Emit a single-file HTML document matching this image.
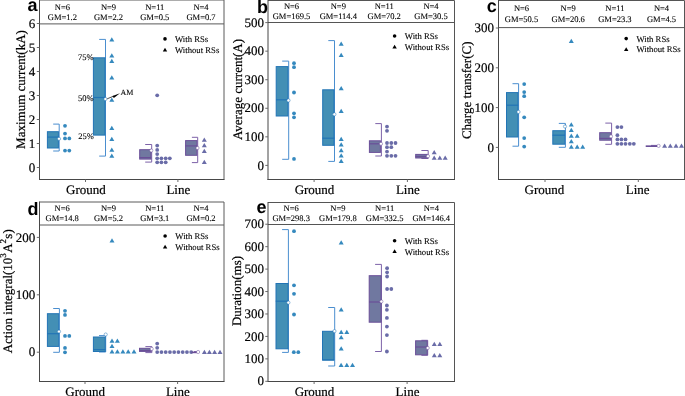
<!DOCTYPE html>
<html><head><meta charset="utf-8"><title>Figure</title>
<style>
html,body{margin:0;padding:0;background:#fff;}
body{width:685px;height:396px;overflow:hidden;}
svg{display:block;filter:blur(0.2px);}
text{fill:#000;stroke:#000;stroke-width:0.2px;text-rendering:geometricPrecision;}
</style></head>
<body>
<svg width="685" height="396" viewBox="0 0 685 396">
<rect width="685" height="396" fill="#fff"/>
<line x1="39.5" y1="0" x2="224" y2="0" stroke="#5a5a5a" stroke-width="1"/>
<line x1="224" y1="0" x2="224" y2="179.5" stroke="#5a5a5a" stroke-width="1"/>
<line x1="39.5" y1="23.9" x2="224" y2="23.9" stroke="#5a5a5a" stroke-width="1"/>
<line x1="39.5" y1="-0.5" x2="39.5" y2="180" stroke="#474747" stroke-width="1"/>
<line x1="39" y1="179.5" x2="224.5" y2="179.5" stroke="#474747" stroke-width="1"/>
<line x1="36.8" y1="167.5" x2="39.5" y2="167.5" stroke="#6a6a6a" stroke-width="1"/>
<text x="35.3" y="171.6" font-size="13" text-anchor="end" style="font-family:'Liberation Serif',serif;stroke-width:0.2px" font-weight="normal" >0</text>
<line x1="36.8" y1="143.5" x2="39.5" y2="143.5" stroke="#6a6a6a" stroke-width="1"/>
<text x="35.3" y="147.6" font-size="13" text-anchor="end" style="font-family:'Liberation Serif',serif;stroke-width:0.2px" font-weight="normal" >1</text>
<line x1="36.8" y1="119.5" x2="39.5" y2="119.5" stroke="#6a6a6a" stroke-width="1"/>
<text x="35.3" y="123.6" font-size="13" text-anchor="end" style="font-family:'Liberation Serif',serif;stroke-width:0.2px" font-weight="normal" >2</text>
<line x1="36.8" y1="95.5" x2="39.5" y2="95.5" stroke="#6a6a6a" stroke-width="1"/>
<text x="35.3" y="99.6" font-size="13" text-anchor="end" style="font-family:'Liberation Serif',serif;stroke-width:0.2px" font-weight="normal" >3</text>
<line x1="36.8" y1="71.5" x2="39.5" y2="71.5" stroke="#6a6a6a" stroke-width="1"/>
<text x="35.3" y="75.6" font-size="13" text-anchor="end" style="font-family:'Liberation Serif',serif;stroke-width:0.2px" font-weight="normal" >4</text>
<line x1="36.8" y1="47.5" x2="39.5" y2="47.5" stroke="#6a6a6a" stroke-width="1"/>
<text x="35.3" y="51.6" font-size="13" text-anchor="end" style="font-family:'Liberation Serif',serif;stroke-width:0.2px" font-weight="normal" >5</text>
<line x1="36.8" y1="23.5" x2="39.5" y2="23.5" stroke="#6a6a6a" stroke-width="1"/>
<text x="35.3" y="27.6" font-size="13" text-anchor="end" style="font-family:'Liberation Serif',serif;stroke-width:0.2px" font-weight="normal" >6</text>
<line x1="85.5" y1="179.5" x2="85.5" y2="182" stroke="#6a6a6a" stroke-width="1"/>
<text x="85.9" y="194" font-size="13" text-anchor="middle" style="font-family:'Liberation Serif',serif;stroke-width:0.2px" font-weight="normal" >Ground</text>
<line x1="177.9" y1="179.5" x2="177.9" y2="182" stroke="#6a6a6a" stroke-width="1"/>
<text x="178.3" y="194" font-size="13" text-anchor="middle" style="font-family:'Liberation Serif',serif;stroke-width:0.2px" font-weight="normal" >Line</text>
<text transform="translate(24.8,89.5) rotate(-90)" x="0" y="0" font-size="13" text-anchor="middle" style="font-family:'Liberation Serif',serif">Maximum current(kA)</text>
<text x="27.6" y="10.8" font-size="18" text-anchor="start" style="font-family:'Liberation Sans',sans-serif;stroke-width:0px" font-weight="bold" >a</text>
<text x="62.4" y="9.5" font-size="8.5" text-anchor="middle" style="font-family:'Liberation Serif',serif;stroke-width:0.1px" font-weight="normal" >N=6</text>
<text x="62.4" y="20.4" font-size="8.5" text-anchor="middle" style="font-family:'Liberation Serif',serif;stroke-width:0.1px" font-weight="normal" >GM=1.2</text>
<text x="108.5" y="9.5" font-size="8.5" text-anchor="middle" style="font-family:'Liberation Serif',serif;stroke-width:0.1px" font-weight="normal" >N=9</text>
<text x="108.5" y="20.4" font-size="8.5" text-anchor="middle" style="font-family:'Liberation Serif',serif;stroke-width:0.1px" font-weight="normal" >GM=2.2</text>
<text x="154.8" y="9.5" font-size="8.5" text-anchor="middle" style="font-family:'Liberation Serif',serif;stroke-width:0.1px" font-weight="normal" >N=11</text>
<text x="154.8" y="20.4" font-size="8.5" text-anchor="middle" style="font-family:'Liberation Serif',serif;stroke-width:0.1px" font-weight="normal" >GM=0.5</text>
<text x="201" y="9.5" font-size="8.5" text-anchor="middle" style="font-family:'Liberation Serif',serif;stroke-width:0.1px" font-weight="normal" >N=4</text>
<text x="201" y="20.4" font-size="8.5" text-anchor="middle" style="font-family:'Liberation Serif',serif;stroke-width:0.1px" font-weight="normal" >GM=0.7</text>
<circle cx="165" cy="38.9" r="1.8" fill="#000"/>
<path d="M165 47.84L167.2 51.58L162.8 51.58Z" fill="#000"/>
<text x="175" y="42.2" font-size="8.7" text-anchor="start" style="font-family:'Liberation Serif',serif;stroke-width:0.1px" font-weight="normal" >With RSs</text>
<text x="175" y="52.8" font-size="8.7" text-anchor="start" style="font-family:'Liberation Serif',serif;stroke-width:0.1px" font-weight="normal" >Without RSs</text>
<path d="M53.2 124.1H59.2V151H53.2" fill="none" stroke="#4a8ecf" stroke-width="1"/>
<rect x="47.4" y="131.7" width="11" height="16.3" fill="#438fb5" stroke="#2274b5" stroke-width="1"/>
<line x1="47.2" y1="137.1" x2="58.6" y2="137.1" stroke="#2274b5" stroke-width="1.2"/>
<circle cx="59" cy="138.8" r="1.6" fill="#fff" stroke="#2274b5" stroke-width="0.5"/>
<circle cx="65" cy="125.8" r="1.9" fill="#3589be"/>
<circle cx="65" cy="133.6" r="1.9" fill="#3589be"/>
<circle cx="65" cy="138.4" r="1.9" fill="#3589be"/>
<circle cx="69.3" cy="138.4" r="1.9" fill="#3589be"/>
<circle cx="65" cy="150.6" r="1.9" fill="#3589be"/>
<circle cx="69.3" cy="150.6" r="1.9" fill="#3589be"/>
<path d="M99.2 39.4H105.5V156.1H99.2" fill="none" stroke="#4a8ecf" stroke-width="1"/>
<rect x="93.4" y="57.8" width="11.6" height="77.3" fill="#438fb5" stroke="#2274b5" stroke-width="1"/>
<line x1="93.2" y1="97.5" x2="105.2" y2="97.5" stroke="#2274b5" stroke-width="1.2"/>
<circle cx="105.4" cy="99" r="1.6" fill="#fff" stroke="#2274b5" stroke-width="0.5"/>
<path d="M111.8 37.16L114.3 41.41L109.3 41.41Z" fill="#3589be"/>
<path d="M111.8 53.16L114.3 57.41L109.3 57.41Z" fill="#3589be"/>
<path d="M111.8 58.66L114.3 62.91L109.3 62.91Z" fill="#3589be"/>
<path d="M111.8 75.36L114.3 79.61L109.3 79.61Z" fill="#3589be"/>
<path d="M111.8 97.46L114.3 101.71L109.3 101.71Z" fill="#3589be"/>
<path d="M111.8 125.66L114.3 129.91L109.3 129.91Z" fill="#3589be"/>
<path d="M111.8 136.66L114.3 140.91L109.3 140.91Z" fill="#3589be"/>
<path d="M111.8 147.46L114.3 151.71L109.3 151.71Z" fill="#3589be"/>
<path d="M111.8 153.56L114.3 157.81L109.3 157.81Z" fill="#3589be"/>
<path d="M145.2 144.5H151.7V162.1H145.2" fill="none" stroke="#7d62a8" stroke-width="1"/>
<rect x="139.7" y="149.7" width="11.3" height="9.4" fill="#7078a0" stroke="#6a4f98" stroke-width="1"/>
<line x1="139.5" y1="157.6" x2="151.2" y2="157.6" stroke="#6a4f98" stroke-width="1.2"/>
<circle cx="151.3" cy="150.5" r="1.6" fill="#fff" stroke="#6a4f98" stroke-width="0.5"/>
<circle cx="157.2" cy="95.3" r="1.9" fill="#6a6ca8"/>
<circle cx="157.2" cy="145.6" r="1.9" fill="#6a6ca8"/>
<circle cx="157.2" cy="149.9" r="1.9" fill="#6a6ca8"/>
<circle cx="157.2" cy="154.1" r="1.9" fill="#6a6ca8"/>
<circle cx="157.2" cy="158.3" r="1.9" fill="#6a6ca8"/>
<circle cx="161.4" cy="158.3" r="1.9" fill="#6a6ca8"/>
<circle cx="165.7" cy="158.3" r="1.9" fill="#6a6ca8"/>
<circle cx="169.8" cy="158.3" r="1.9" fill="#6a6ca8"/>
<circle cx="157.2" cy="162.3" r="1.9" fill="#6a6ca8"/>
<circle cx="161.4" cy="162.3" r="1.9" fill="#6a6ca8"/>
<circle cx="165.7" cy="162.3" r="1.9" fill="#6a6ca8"/>
<path d="M191.9 137.3H197.7V162.6H191.9" fill="none" stroke="#7d62a8" stroke-width="1"/>
<rect x="185.6" y="140.6" width="11.3" height="14.7" fill="#7078a0" stroke="#6a4f98" stroke-width="1"/>
<line x1="185.4" y1="145.9" x2="197.1" y2="145.9" stroke="#6a4f98" stroke-width="1.2"/>
<circle cx="197.5" cy="148" r="1.6" fill="#fff" stroke="#6a4f98" stroke-width="0.5"/>
<path d="M204.3 137.56L206.8 141.81L201.8 141.81Z" fill="#6a6ca8"/>
<path d="M204.3 143.06L206.8 147.31L201.8 147.31Z" fill="#6a6ca8"/>
<path d="M204.3 148.86L206.8 153.11L201.8 153.11Z" fill="#6a6ca8"/>
<path d="M204.3 159.86L206.8 164.11L201.8 164.11Z" fill="#6a6ca8"/>
<text x="93.6" y="59.5" font-size="8.5" text-anchor="end" style="font-family:'Liberation Serif',serif;stroke-width:0.1px" font-weight="normal" >75%</text>
<text x="93.6" y="100.7" font-size="8.5" text-anchor="end" style="font-family:'Liberation Serif',serif;stroke-width:0.1px" font-weight="normal" >50%</text>
<text x="93.8" y="138.7" font-size="8.5" text-anchor="end" style="font-family:'Liberation Serif',serif;stroke-width:0.1px" font-weight="normal" >25%</text>
<text x="120.4" y="94.7" font-size="8" text-anchor="start" style="font-family:'Liberation Serif',serif;stroke-width:0.1px" font-weight="normal" >AM</text>
<path d="M107.2 98.8L113.5 96.2" stroke="#000" stroke-width="0.7" fill="none"/>
<path d="M112.5 95.9L120.0 93.3L113.8 97.9Z" fill="#000"/>
<line x1="268" y1="0.5" x2="454.5" y2="0.5" stroke="#555555" stroke-width="1"/>
<line x1="454.5" y1="0.5" x2="454.5" y2="179.5" stroke="#555555" stroke-width="1"/>
<line x1="268" y1="22.5" x2="454.5" y2="22.5" stroke="#555555" stroke-width="1"/>
<line x1="268" y1="0" x2="268" y2="180" stroke="#474747" stroke-width="1"/>
<line x1="267.5" y1="179.5" x2="455" y2="179.5" stroke="#474747" stroke-width="1"/>
<line x1="265.3" y1="165.4" x2="268" y2="165.4" stroke="#6a6a6a" stroke-width="1"/>
<text x="264" y="169.5" font-size="13" text-anchor="end" style="font-family:'Liberation Serif',serif;stroke-width:0.2px" font-weight="normal" >0</text>
<line x1="265.3" y1="136.84" x2="268" y2="136.84" stroke="#6a6a6a" stroke-width="1"/>
<text x="264" y="140.94" font-size="13" text-anchor="end" style="font-family:'Liberation Serif',serif;stroke-width:0.2px" font-weight="normal" >100</text>
<line x1="265.3" y1="108.28" x2="268" y2="108.28" stroke="#6a6a6a" stroke-width="1"/>
<text x="264" y="112.38" font-size="13" text-anchor="end" style="font-family:'Liberation Serif',serif;stroke-width:0.2px" font-weight="normal" >200</text>
<line x1="265.3" y1="79.72" x2="268" y2="79.72" stroke="#6a6a6a" stroke-width="1"/>
<text x="264" y="83.82" font-size="13" text-anchor="end" style="font-family:'Liberation Serif',serif;stroke-width:0.2px" font-weight="normal" >300</text>
<line x1="265.3" y1="51.16" x2="268" y2="51.16" stroke="#6a6a6a" stroke-width="1"/>
<text x="264" y="55.26" font-size="13" text-anchor="end" style="font-family:'Liberation Serif',serif;stroke-width:0.2px" font-weight="normal" >400</text>
<line x1="265.3" y1="22.6" x2="268" y2="22.6" stroke="#6a6a6a" stroke-width="1"/>
<text x="264" y="26.7" font-size="13" text-anchor="end" style="font-family:'Liberation Serif',serif;stroke-width:0.2px" font-weight="normal" >500</text>
<line x1="314.1" y1="179.5" x2="314.1" y2="182" stroke="#6a6a6a" stroke-width="1"/>
<text x="314.5" y="194" font-size="13" text-anchor="middle" style="font-family:'Liberation Serif',serif;stroke-width:0.2px" font-weight="normal" >Ground</text>
<line x1="407.4" y1="179.5" x2="407.4" y2="182" stroke="#6a6a6a" stroke-width="1"/>
<text x="407.8" y="194" font-size="13" text-anchor="middle" style="font-family:'Liberation Serif',serif;stroke-width:0.2px" font-weight="normal" >Line</text>
<text transform="translate(242,89.5) rotate(-90)" x="0" y="0" font-size="13" text-anchor="middle" style="font-family:'Liberation Serif',serif">Average current(A)</text>
<text x="257" y="13.4" font-size="18" text-anchor="start" style="font-family:'Liberation Sans',sans-serif;stroke-width:0px" font-weight="bold" >b</text>
<text x="291.5" y="8.6" font-size="8.5" text-anchor="middle" style="font-family:'Liberation Serif',serif;stroke-width:0.1px" font-weight="normal" >N=6</text>
<text x="291.5" y="19.3" font-size="8.5" text-anchor="middle" style="font-family:'Liberation Serif',serif;stroke-width:0.1px" font-weight="normal" >GM=169.5</text>
<text x="338.3" y="8.6" font-size="8.5" text-anchor="middle" style="font-family:'Liberation Serif',serif;stroke-width:0.1px" font-weight="normal" >N=9</text>
<text x="338.3" y="19.3" font-size="8.5" text-anchor="middle" style="font-family:'Liberation Serif',serif;stroke-width:0.1px" font-weight="normal" >GM=114.4</text>
<text x="384.2" y="8.6" font-size="8.5" text-anchor="middle" style="font-family:'Liberation Serif',serif;stroke-width:0.1px" font-weight="normal" >N=11</text>
<text x="384.2" y="19.3" font-size="8.5" text-anchor="middle" style="font-family:'Liberation Serif',serif;stroke-width:0.1px" font-weight="normal" >GM=70.2</text>
<text x="431" y="8.6" font-size="8.5" text-anchor="middle" style="font-family:'Liberation Serif',serif;stroke-width:0.1px" font-weight="normal" >N=4</text>
<text x="431" y="19.3" font-size="8.5" text-anchor="middle" style="font-family:'Liberation Serif',serif;stroke-width:0.1px" font-weight="normal" >GM=30.5</text>
<circle cx="394.6" cy="36" r="1.8" fill="#000"/>
<path d="M394.6 44.84L396.8 48.58L392.4 48.58Z" fill="#000"/>
<text x="404.8" y="39.2" font-size="8.7" text-anchor="start" style="font-family:'Liberation Serif',serif;stroke-width:0.1px" font-weight="normal" >With RSs</text>
<text x="404.8" y="49.8" font-size="8.7" text-anchor="start" style="font-family:'Liberation Serif',serif;stroke-width:0.1px" font-weight="normal" >Without RSs</text>
<path d="M282.2 61.1H288.7V159.3H282.2" fill="none" stroke="#4a8ecf" stroke-width="1"/>
<rect x="276.2" y="66.6" width="11.8" height="49.4" fill="#438fb5" stroke="#2274b5" stroke-width="1"/>
<line x1="276" y1="99.8" x2="288.2" y2="99.8" stroke="#2274b5" stroke-width="1.2"/>
<circle cx="288.5" cy="100.4" r="1.6" fill="#fff" stroke="#2274b5" stroke-width="0.5"/>
<circle cx="294" cy="63.2" r="1.9" fill="#3589be"/>
<circle cx="294" cy="67.2" r="1.9" fill="#3589be"/>
<circle cx="294" cy="92.5" r="1.9" fill="#3589be"/>
<circle cx="294" cy="113.3" r="1.9" fill="#3589be"/>
<circle cx="294" cy="117.3" r="1.9" fill="#3589be"/>
<circle cx="294" cy="158.9" r="1.9" fill="#3589be"/>
<path d="M328.3 40.6H334.5V161.4H328.3" fill="none" stroke="#4a8ecf" stroke-width="1"/>
<rect x="322.7" y="89.8" width="11.3" height="55.5" fill="#438fb5" stroke="#2274b5" stroke-width="1"/>
<line x1="322.5" y1="138.2" x2="334.2" y2="138.2" stroke="#2274b5" stroke-width="1.2"/>
<circle cx="334.4" cy="114.3" r="1.6" fill="#fff" stroke="#2274b5" stroke-width="0.5"/>
<path d="M341.2 41.46L343.7 45.71L338.7 45.71Z" fill="#3589be"/>
<path d="M341.2 52.76L343.7 57.01L338.7 57.01Z" fill="#3589be"/>
<path d="M341.2 86.06L343.7 90.31L338.7 90.31Z" fill="#3589be"/>
<path d="M341.2 108.76L343.7 113.01L338.7 113.01Z" fill="#3589be"/>
<path d="M341.2 136.66L343.7 140.91L338.7 140.91Z" fill="#3589be"/>
<path d="M341.2 142.36L343.7 146.61L338.7 146.61Z" fill="#3589be"/>
<path d="M341.2 148.06L343.7 152.31L338.7 152.31Z" fill="#3589be"/>
<path d="M341.2 153.36L343.7 157.61L338.7 157.61Z" fill="#3589be"/>
<path d="M341.2 158.66L343.7 162.91L338.7 162.91Z" fill="#3589be"/>
<path d="M375.3 123.6H381.4V156H375.3" fill="none" stroke="#7d62a8" stroke-width="1"/>
<rect x="369.4" y="140.8" width="11" height="11.6" fill="#7078a0" stroke="#6a4f98" stroke-width="1"/>
<line x1="369.2" y1="143.8" x2="380.6" y2="143.8" stroke="#6a4f98" stroke-width="1.2"/>
<circle cx="381" cy="143.8" r="1.6" fill="#fff" stroke="#6a4f98" stroke-width="0.5"/>
<circle cx="387" cy="126.6" r="1.9" fill="#6a6ca8"/>
<circle cx="387" cy="130.8" r="1.9" fill="#6a6ca8"/>
<circle cx="387" cy="143" r="1.9" fill="#6a6ca8"/>
<circle cx="391.3" cy="143" r="1.9" fill="#6a6ca8"/>
<circle cx="395.5" cy="143" r="1.9" fill="#6a6ca8"/>
<circle cx="387" cy="147.2" r="1.9" fill="#6a6ca8"/>
<circle cx="391.3" cy="147.2" r="1.9" fill="#6a6ca8"/>
<circle cx="387" cy="151.6" r="1.9" fill="#6a6ca8"/>
<circle cx="387" cy="155.8" r="1.9" fill="#6a6ca8"/>
<circle cx="391.3" cy="155.8" r="1.9" fill="#6a6ca8"/>
<circle cx="395.5" cy="155.8" r="1.9" fill="#6a6ca8"/>
<path d="M421.4 150.5H428.2V158.5H421.4" fill="none" stroke="#7d62a8" stroke-width="1"/>
<rect x="415.7" y="154.4" width="12" height="3.6" fill="#7078a0" stroke="#6a4f98" stroke-width="1"/>
<line x1="415.5" y1="156.5" x2="427.9" y2="156.5" stroke="#6a4f98" stroke-width="1.2"/>
<circle cx="428" cy="156.2" r="1.6" fill="#fff" stroke="#6a4f98" stroke-width="0.5"/>
<path d="M434.2 149.96L436.7 154.21L431.7 154.21Z" fill="#6a6ca8"/>
<path d="M434.2 155.56L436.7 159.81L431.7 159.81Z" fill="#6a6ca8"/>
<path d="M439.8 155.56L442.3 159.81L437.3 159.81Z" fill="#6a6ca8"/>
<path d="M445.2 155.56L447.7 159.81L442.7 159.81Z" fill="#6a6ca8"/>
<line x1="498.5" y1="0.5" x2="684.5" y2="0.5" stroke="#555555" stroke-width="1"/>
<line x1="684.5" y1="0.5" x2="684.5" y2="179.5" stroke="#555555" stroke-width="1"/>
<line x1="498.5" y1="27.6" x2="684.5" y2="27.6" stroke="#555555" stroke-width="1"/>
<line x1="498.5" y1="0" x2="498.5" y2="180" stroke="#474747" stroke-width="1"/>
<line x1="498" y1="179.5" x2="685" y2="179.5" stroke="#474747" stroke-width="1"/>
<line x1="495.8" y1="147.4" x2="498.5" y2="147.4" stroke="#6a6a6a" stroke-width="1"/>
<text x="494" y="151.5" font-size="13" text-anchor="end" style="font-family:'Liberation Serif',serif;stroke-width:0.2px" font-weight="normal" >0</text>
<line x1="495.8" y1="107.6" x2="498.5" y2="107.6" stroke="#6a6a6a" stroke-width="1"/>
<text x="494" y="111.7" font-size="13" text-anchor="end" style="font-family:'Liberation Serif',serif;stroke-width:0.2px" font-weight="normal" >100</text>
<line x1="495.8" y1="67.8" x2="498.5" y2="67.8" stroke="#6a6a6a" stroke-width="1"/>
<text x="494" y="71.9" font-size="13" text-anchor="end" style="font-family:'Liberation Serif',serif;stroke-width:0.2px" font-weight="normal" >200</text>
<line x1="495.8" y1="28" x2="498.5" y2="28" stroke="#6a6a6a" stroke-width="1"/>
<text x="494" y="32.1" font-size="13" text-anchor="end" style="font-family:'Liberation Serif',serif;stroke-width:0.2px" font-weight="normal" >300</text>
<line x1="545" y1="179.5" x2="545" y2="182" stroke="#6a6a6a" stroke-width="1"/>
<text x="544.4" y="194" font-size="13" text-anchor="middle" style="font-family:'Liberation Serif',serif;stroke-width:0.2px" font-weight="normal" >Ground</text>
<line x1="638.3" y1="179.5" x2="638.3" y2="182" stroke="#6a6a6a" stroke-width="1"/>
<text x="637.7" y="194" font-size="13" text-anchor="middle" style="font-family:'Liberation Serif',serif;stroke-width:0.2px" font-weight="normal" >Line</text>
<text transform="translate(471.2,90.3) rotate(-90)" x="0" y="0" font-size="13" text-anchor="middle" style="font-family:'Liberation Serif',serif">Charge transfer(C)</text>
<text x="486.8" y="11.8" font-size="18" text-anchor="start" style="font-family:'Liberation Sans',sans-serif;stroke-width:0px" font-weight="bold" >c</text>
<text x="521.5" y="11.3" font-size="8.5" text-anchor="middle" style="font-family:'Liberation Serif',serif;stroke-width:0.1px" font-weight="normal" >N=6</text>
<text x="521.5" y="22" font-size="8.5" text-anchor="middle" style="font-family:'Liberation Serif',serif;stroke-width:0.1px" font-weight="normal" >GM=50.5</text>
<text x="568.2" y="11.3" font-size="8.5" text-anchor="middle" style="font-family:'Liberation Serif',serif;stroke-width:0.1px" font-weight="normal" >N=9</text>
<text x="568.2" y="22" font-size="8.5" text-anchor="middle" style="font-family:'Liberation Serif',serif;stroke-width:0.1px" font-weight="normal" >GM=20.6</text>
<text x="614.9" y="11.3" font-size="8.5" text-anchor="middle" style="font-family:'Liberation Serif',serif;stroke-width:0.1px" font-weight="normal" >N=11</text>
<text x="614.9" y="22" font-size="8.5" text-anchor="middle" style="font-family:'Liberation Serif',serif;stroke-width:0.1px" font-weight="normal" >GM=23.3</text>
<text x="661.5" y="11.3" font-size="8.5" text-anchor="middle" style="font-family:'Liberation Serif',serif;stroke-width:0.1px" font-weight="normal" >N=4</text>
<text x="661.5" y="22" font-size="8.5" text-anchor="middle" style="font-family:'Liberation Serif',serif;stroke-width:0.1px" font-weight="normal" >GM=4.5</text>
<circle cx="626.2" cy="38.6" r="1.8" fill="#000"/>
<path d="M626.2 47.34L628.4 51.08L624 51.08Z" fill="#000"/>
<text x="636.4" y="41.6" font-size="8.7" text-anchor="start" style="font-family:'Liberation Serif',serif;stroke-width:0.1px" font-weight="normal" >With RSs</text>
<text x="636.4" y="52.4" font-size="8.7" text-anchor="start" style="font-family:'Liberation Serif',serif;stroke-width:0.1px" font-weight="normal" >Without RSs</text>
<path d="M512.5 83.7H518.6V146.2H512.5" fill="none" stroke="#4a8ecf" stroke-width="1"/>
<rect x="506.5" y="92.6" width="11.5" height="44.4" fill="#438fb5" stroke="#2274b5" stroke-width="1"/>
<line x1="506.3" y1="105.2" x2="518.2" y2="105.2" stroke="#2274b5" stroke-width="1.2"/>
<circle cx="518.5" cy="111.9" r="1.6" fill="#fff" stroke="#2274b5" stroke-width="0.5"/>
<circle cx="524.2" cy="84.1" r="1.9" fill="#3589be"/>
<circle cx="524.2" cy="92.1" r="1.9" fill="#3589be"/>
<circle cx="524.2" cy="96.2" r="1.9" fill="#3589be"/>
<circle cx="524.2" cy="117.3" r="1.9" fill="#3589be"/>
<circle cx="524.2" cy="138.1" r="1.9" fill="#3589be"/>
<circle cx="524.2" cy="146.6" r="1.9" fill="#3589be"/>
<path d="M558.8 123.4H565.4V147.3H558.8" fill="none" stroke="#4a8ecf" stroke-width="1"/>
<rect x="552.8" y="130.7" width="12" height="13.5" fill="#438fb5" stroke="#2274b5" stroke-width="1"/>
<line x1="552.6" y1="135.2" x2="565" y2="135.2" stroke="#2274b5" stroke-width="1.2"/>
<circle cx="565" cy="126.5" r="1.6" fill="#fff" stroke="#2274b5" stroke-width="0.5"/>
<path d="M571.3 38.66L573.8 42.91L568.8 42.91Z" fill="#3589be"/>
<path d="M571.3 122.16L573.8 126.41L568.8 126.41Z" fill="#3589be"/>
<path d="M571.3 127.86L573.8 132.11L568.8 132.11Z" fill="#3589be"/>
<path d="M571.3 133.56L573.8 137.81L568.8 137.81Z" fill="#3589be"/>
<path d="M577.2 133.56L579.7 137.81L574.7 137.81Z" fill="#3589be"/>
<path d="M571.3 138.96L573.8 143.21L568.8 143.21Z" fill="#3589be"/>
<path d="M571.3 144.56L573.8 148.81L568.8 148.81Z" fill="#3589be"/>
<path d="M577.2 144.56L579.7 148.81L574.7 148.81Z" fill="#3589be"/>
<path d="M582.7 144.56L585.2 148.81L580.2 148.81Z" fill="#3589be"/>
<path d="M605.3 123.1H611.6V144.3H605.3" fill="none" stroke="#7d62a8" stroke-width="1"/>
<rect x="599.7" y="132.7" width="11.1" height="7.5" fill="#7078a0" stroke="#6a4f98" stroke-width="1"/>
<line x1="599.5" y1="138.4" x2="611" y2="138.4" stroke="#6a4f98" stroke-width="1.2"/>
<circle cx="611" cy="136.4" r="1.6" fill="#fff" stroke="#6a4f98" stroke-width="0.5"/>
<circle cx="617.4" cy="127.1" r="1.9" fill="#6a6ca8"/>
<circle cx="621.4" cy="127.1" r="1.9" fill="#6a6ca8"/>
<circle cx="617.4" cy="135.2" r="1.9" fill="#6a6ca8"/>
<circle cx="617.4" cy="139.4" r="1.9" fill="#6a6ca8"/>
<circle cx="621.4" cy="139.4" r="1.9" fill="#6a6ca8"/>
<circle cx="625.5" cy="139.4" r="1.9" fill="#6a6ca8"/>
<circle cx="617.4" cy="143.8" r="1.9" fill="#6a6ca8"/>
<circle cx="621.4" cy="143.8" r="1.9" fill="#6a6ca8"/>
<circle cx="625.5" cy="143.8" r="1.9" fill="#6a6ca8"/>
<circle cx="629.8" cy="143.8" r="1.9" fill="#6a6ca8"/>
<circle cx="633.8" cy="143.8" r="1.9" fill="#6a6ca8"/>
<path d="M651 145.4H657V146.4H651" fill="none" stroke="#7d62a8" stroke-width="1"/>
<rect x="646.2" y="145.9" width="10.3" height="0.6" fill="#7078a0" stroke="#6a4f98" stroke-width="1"/>
<circle cx="658.6" cy="145.9" r="1.6" fill="#fff" stroke="#6a4f98" stroke-width="0.5"/>
<path d="M664.6 143.56L667.1 147.81L662.1 147.81Z" fill="#6a6ca8"/>
<path d="M670.3 143.56L672.8 147.81L667.8 147.81Z" fill="#6a6ca8"/>
<path d="M676 143.56L678.5 147.81L673.5 147.81Z" fill="#6a6ca8"/>
<path d="M681.5 143.56L684 147.81L679 147.81Z" fill="#6a6ca8"/>
<line x1="39.5" y1="202" x2="224" y2="202" stroke="#5a5a5a" stroke-width="1"/>
<line x1="224" y1="202" x2="224" y2="381.5" stroke="#5a5a5a" stroke-width="1"/>
<line x1="39.5" y1="225" x2="224" y2="225" stroke="#5a5a5a" stroke-width="1"/>
<line x1="39.5" y1="201.5" x2="39.5" y2="382" stroke="#474747" stroke-width="1"/>
<line x1="39" y1="381.5" x2="224.5" y2="381.5" stroke="#474747" stroke-width="1"/>
<line x1="36.8" y1="352.2" x2="39.5" y2="352.2" stroke="#6a6a6a" stroke-width="1"/>
<text x="35.3" y="356.3" font-size="13" text-anchor="end" style="font-family:'Liberation Serif',serif;stroke-width:0.2px" font-weight="normal" >0</text>
<line x1="36.8" y1="294.8" x2="39.5" y2="294.8" stroke="#6a6a6a" stroke-width="1"/>
<text x="35.3" y="298.9" font-size="13" text-anchor="end" style="font-family:'Liberation Serif',serif;stroke-width:0.2px" font-weight="normal" >100</text>
<line x1="36.8" y1="237.4" x2="39.5" y2="237.4" stroke="#6a6a6a" stroke-width="1"/>
<text x="35.3" y="241.5" font-size="13" text-anchor="end" style="font-family:'Liberation Serif',serif;stroke-width:0.2px" font-weight="normal" >200</text>
<line x1="85" y1="381.5" x2="85" y2="384" stroke="#6a6a6a" stroke-width="1"/>
<text x="85.2" y="395.6" font-size="13" text-anchor="middle" style="font-family:'Liberation Serif',serif;stroke-width:0.2px" font-weight="normal" >Ground</text>
<line x1="177.6" y1="381.5" x2="177.6" y2="384" stroke="#6a6a6a" stroke-width="1"/>
<text x="177.8" y="395.6" font-size="13" text-anchor="middle" style="font-family:'Liberation Serif',serif;stroke-width:0.2px" font-weight="normal" >Line</text>
<text transform="translate(12.4,291.3) rotate(-90)" font-size="13" text-anchor="middle" style="font-family:'Liberation Serif',serif">Action integral(10<tspan font-size="9" dy="-6.5">3</tspan><tspan dy="6.5" dx="0.3">A</tspan><tspan font-size="9" dy="-6.5">2</tspan><tspan dy="6.5" dx="0.3">s)</tspan></text>
<text x="27.6" y="215.4" font-size="18" text-anchor="start" style="font-family:'Liberation Sans',sans-serif;stroke-width:0px" font-weight="bold" >d</text>
<text x="62.2" y="210.7" font-size="8.5" text-anchor="middle" style="font-family:'Liberation Serif',serif;stroke-width:0.1px" font-weight="normal" >N=6</text>
<text x="62.2" y="221.2" font-size="8.5" text-anchor="middle" style="font-family:'Liberation Serif',serif;stroke-width:0.1px" font-weight="normal" >GM=14.8</text>
<text x="108.5" y="210.7" font-size="8.5" text-anchor="middle" style="font-family:'Liberation Serif',serif;stroke-width:0.1px" font-weight="normal" >N=9</text>
<text x="108.5" y="221.2" font-size="8.5" text-anchor="middle" style="font-family:'Liberation Serif',serif;stroke-width:0.1px" font-weight="normal" >GM=5.2</text>
<text x="154.8" y="210.7" font-size="8.5" text-anchor="middle" style="font-family:'Liberation Serif',serif;stroke-width:0.1px" font-weight="normal" >N=11</text>
<text x="154.8" y="221.2" font-size="8.5" text-anchor="middle" style="font-family:'Liberation Serif',serif;stroke-width:0.1px" font-weight="normal" >GM=3.1</text>
<text x="201" y="210.7" font-size="8.5" text-anchor="middle" style="font-family:'Liberation Serif',serif;stroke-width:0.1px" font-weight="normal" >N=4</text>
<text x="201" y="221.2" font-size="8.5" text-anchor="middle" style="font-family:'Liberation Serif',serif;stroke-width:0.1px" font-weight="normal" >GM=0.2</text>
<circle cx="165.1" cy="236" r="1.8" fill="#000"/>
<path d="M165.1 244.84L167.3 248.58L162.9 248.58Z" fill="#000"/>
<text x="175.3" y="239.2" font-size="8.7" text-anchor="start" style="font-family:'Liberation Serif',serif;stroke-width:0.1px" font-weight="normal" >With RSs</text>
<text x="175.3" y="250.1" font-size="8.7" text-anchor="start" style="font-family:'Liberation Serif',serif;stroke-width:0.1px" font-weight="normal" >Without RSs</text>
<path d="M53.2 308.5H59.4V352.3H53.2" fill="none" stroke="#4a8ecf" stroke-width="1"/>
<rect x="47.4" y="313.7" width="11.3" height="32.7" fill="#438fb5" stroke="#2274b5" stroke-width="1"/>
<line x1="47.2" y1="333.7" x2="58.9" y2="333.7" stroke="#2274b5" stroke-width="1.2"/>
<circle cx="59" cy="331.5" r="1.6" fill="#fff" stroke="#2274b5" stroke-width="0.5"/>
<circle cx="65" cy="310.8" r="1.9" fill="#3589be"/>
<circle cx="65" cy="314.9" r="1.9" fill="#3589be"/>
<circle cx="65" cy="335.9" r="1.9" fill="#3589be"/>
<circle cx="69.3" cy="335.9" r="1.9" fill="#3589be"/>
<circle cx="65" cy="347.9" r="1.9" fill="#3589be"/>
<circle cx="65" cy="352.3" r="1.9" fill="#3589be"/>
<path d="M99 335.6H105.7V352H99" fill="none" stroke="#4a8ecf" stroke-width="1"/>
<rect x="93.4" y="337" width="11.8" height="14.5" fill="#438fb5" stroke="#2274b5" stroke-width="1"/>
<line x1="93.2" y1="349.6" x2="105.4" y2="349.6" stroke="#2274b5" stroke-width="1.2"/>
<circle cx="105.7" cy="334.5" r="1.6" fill="#fff" stroke="#2274b5" stroke-width="0.5"/>
<path d="M112 238.16L114.5 242.41L109.5 242.41Z" fill="#3589be"/>
<path d="M112 338.56L114.5 342.81L109.5 342.81Z" fill="#3589be"/>
<path d="M117.4 338.56L119.9 342.81L114.9 342.81Z" fill="#3589be"/>
<path d="M112 343.86L114.5 348.11L109.5 348.11Z" fill="#3589be"/>
<path d="M112 349.16L114.5 353.41L109.5 353.41Z" fill="#3589be"/>
<path d="M117.4 349.16L119.9 353.41L114.9 353.41Z" fill="#3589be"/>
<path d="M122.9 349.16L125.4 353.41L120.4 353.41Z" fill="#3589be"/>
<path d="M128.2 349.16L130.7 353.41L125.7 353.41Z" fill="#3589be"/>
<path d="M134 349.16L136.5 353.41L131.5 353.41Z" fill="#3589be"/>
<path d="M145.4 346.6H151.9V352.6H145.4" fill="none" stroke="#7d62a8" stroke-width="1"/>
<rect x="139.5" y="348.3" width="11.7" height="3.1" fill="#7078a0" stroke="#6a4f98" stroke-width="1"/>
<line x1="139.3" y1="350.5" x2="151.4" y2="350.5" stroke="#6a4f98" stroke-width="1.2"/>
<circle cx="151.7" cy="348.9" r="1.6" fill="#fff" stroke="#6a4f98" stroke-width="0.5"/>
<circle cx="157.2" cy="343.6" r="1.9" fill="#6a6ca8"/>
<circle cx="157.2" cy="347.8" r="1.9" fill="#6a6ca8"/>
<circle cx="157.2" cy="352.1" r="1.9" fill="#6a6ca8"/>
<circle cx="161.45" cy="352.1" r="1.9" fill="#6a6ca8"/>
<circle cx="165.7" cy="352.1" r="1.9" fill="#6a6ca8"/>
<circle cx="169.95" cy="352.1" r="1.9" fill="#6a6ca8"/>
<circle cx="174.2" cy="352.1" r="1.9" fill="#6a6ca8"/>
<circle cx="178.45" cy="352.1" r="1.9" fill="#6a6ca8"/>
<circle cx="182.7" cy="352.1" r="1.9" fill="#6a6ca8"/>
<circle cx="186.95" cy="352.1" r="1.9" fill="#6a6ca8"/>
<circle cx="191.2" cy="352.1" r="1.9" fill="#6a6ca8"/>
<path d="M194 351.6H197V352.4H194" fill="none" stroke="#7d62a8" stroke-width="1"/>
<rect x="192" y="352.1" width="4.5" height="0.6" fill="#7078a0" stroke="#6a4f98" stroke-width="1"/>
<circle cx="198.1" cy="352" r="1.6" fill="#fff" stroke="#6a4f98" stroke-width="0.5"/>
<path d="M204.4 349.76L206.9 354.01L201.9 354.01Z" fill="#6a6ca8"/>
<path d="M209.4 349.76L211.9 354.01L206.9 354.01Z" fill="#6a6ca8"/>
<path d="M214.6 349.76L217.1 354.01L212.1 354.01Z" fill="#6a6ca8"/>
<path d="M220 349.76L222.5 354.01L217.5 354.01Z" fill="#6a6ca8"/>
<line x1="268" y1="202.5" x2="454.5" y2="202.5" stroke="#555555" stroke-width="1"/>
<line x1="454.5" y1="202.5" x2="454.5" y2="381.5" stroke="#555555" stroke-width="1"/>
<line x1="268" y1="224.5" x2="454.5" y2="224.5" stroke="#555555" stroke-width="1"/>
<line x1="268" y1="202" x2="268" y2="382" stroke="#474747" stroke-width="1"/>
<line x1="267.5" y1="381.5" x2="455" y2="381.5" stroke="#474747" stroke-width="1"/>
<line x1="265.3" y1="381.3" x2="268" y2="381.3" stroke="#6a6a6a" stroke-width="1"/>
<text x="264" y="385.4" font-size="13" text-anchor="end" style="font-family:'Liberation Serif',serif;stroke-width:0.2px" font-weight="normal" >0</text>
<line x1="265.3" y1="358.86" x2="268" y2="358.86" stroke="#6a6a6a" stroke-width="1"/>
<text x="264" y="362.96" font-size="13" text-anchor="end" style="font-family:'Liberation Serif',serif;stroke-width:0.2px" font-weight="normal" >100</text>
<line x1="265.3" y1="336.42" x2="268" y2="336.42" stroke="#6a6a6a" stroke-width="1"/>
<text x="264" y="340.52" font-size="13" text-anchor="end" style="font-family:'Liberation Serif',serif;stroke-width:0.2px" font-weight="normal" >200</text>
<line x1="265.3" y1="313.98" x2="268" y2="313.98" stroke="#6a6a6a" stroke-width="1"/>
<text x="264" y="318.08" font-size="13" text-anchor="end" style="font-family:'Liberation Serif',serif;stroke-width:0.2px" font-weight="normal" >300</text>
<line x1="265.3" y1="291.54" x2="268" y2="291.54" stroke="#6a6a6a" stroke-width="1"/>
<text x="264" y="295.64" font-size="13" text-anchor="end" style="font-family:'Liberation Serif',serif;stroke-width:0.2px" font-weight="normal" >400</text>
<line x1="265.3" y1="269.1" x2="268" y2="269.1" stroke="#6a6a6a" stroke-width="1"/>
<text x="264" y="273.2" font-size="13" text-anchor="end" style="font-family:'Liberation Serif',serif;stroke-width:0.2px" font-weight="normal" >500</text>
<line x1="265.3" y1="246.66" x2="268" y2="246.66" stroke="#6a6a6a" stroke-width="1"/>
<text x="264" y="250.76" font-size="13" text-anchor="end" style="font-family:'Liberation Serif',serif;stroke-width:0.2px" font-weight="normal" >600</text>
<line x1="265.3" y1="224.22" x2="268" y2="224.22" stroke="#6a6a6a" stroke-width="1"/>
<text x="264" y="228.32" font-size="13" text-anchor="end" style="font-family:'Liberation Serif',serif;stroke-width:0.2px" font-weight="normal" >700</text>
<line x1="314.1" y1="381.5" x2="314.1" y2="384" stroke="#6a6a6a" stroke-width="1"/>
<text x="314.5" y="395.6" font-size="13" text-anchor="middle" style="font-family:'Liberation Serif',serif;stroke-width:0.2px" font-weight="normal" >Ground</text>
<line x1="407.1" y1="381.5" x2="407.1" y2="384" stroke="#6a6a6a" stroke-width="1"/>
<text x="407.5" y="395.6" font-size="13" text-anchor="middle" style="font-family:'Liberation Serif',serif;stroke-width:0.2px" font-weight="normal" >Line</text>
<text transform="translate(241.3,291) rotate(-90)" x="0" y="0" font-size="13" text-anchor="middle" style="font-family:'Liberation Serif',serif">Duration(ms)</text>
<text x="256.6" y="213.2" font-size="18" text-anchor="start" style="font-family:'Liberation Sans',sans-serif;stroke-width:0px" font-weight="bold" >e</text>
<text x="291.2" y="210.6" font-size="8.5" text-anchor="middle" style="font-family:'Liberation Serif',serif;stroke-width:0.1px" font-weight="normal" >N=6</text>
<text x="291.2" y="221.3" font-size="8.5" text-anchor="middle" style="font-family:'Liberation Serif',serif;stroke-width:0.1px" font-weight="normal" >GM=298.3</text>
<text x="337.9" y="210.6" font-size="8.5" text-anchor="middle" style="font-family:'Liberation Serif',serif;stroke-width:0.1px" font-weight="normal" >N=9</text>
<text x="337.9" y="221.3" font-size="8.5" text-anchor="middle" style="font-family:'Liberation Serif',serif;stroke-width:0.1px" font-weight="normal" >GM=179.8</text>
<text x="384.6" y="210.6" font-size="8.5" text-anchor="middle" style="font-family:'Liberation Serif',serif;stroke-width:0.1px" font-weight="normal" >N=11</text>
<text x="384.6" y="221.3" font-size="8.5" text-anchor="middle" style="font-family:'Liberation Serif',serif;stroke-width:0.1px" font-weight="normal" >GM=332.5</text>
<text x="431.3" y="210.6" font-size="8.5" text-anchor="middle" style="font-family:'Liberation Serif',serif;stroke-width:0.1px" font-weight="normal" >N=4</text>
<text x="431.3" y="221.3" font-size="8.5" text-anchor="middle" style="font-family:'Liberation Serif',serif;stroke-width:0.1px" font-weight="normal" >GM=146.4</text>
<circle cx="394.6" cy="240.7" r="1.8" fill="#000"/>
<path d="M394.6 249.24L396.8 252.98L392.4 252.98Z" fill="#000"/>
<text x="404.8" y="243.9" font-size="8.7" text-anchor="start" style="font-family:'Liberation Serif',serif;stroke-width:0.1px" font-weight="normal" >With RSs</text>
<text x="404.8" y="254.8" font-size="8.7" text-anchor="start" style="font-family:'Liberation Serif',serif;stroke-width:0.1px" font-weight="normal" >Without RSs</text>
<path d="M282.1 229.6H288.4V352.4H282.1" fill="none" stroke="#4a8ecf" stroke-width="1"/>
<rect x="276" y="283.5" width="12.1" height="65.3" fill="#438fb5" stroke="#2274b5" stroke-width="1"/>
<line x1="275.8" y1="301.2" x2="288.3" y2="301.2" stroke="#2274b5" stroke-width="1.2"/>
<circle cx="288.4" cy="302.6" r="1.6" fill="#fff" stroke="#2274b5" stroke-width="0.5"/>
<circle cx="294" cy="231.2" r="1.9" fill="#3589be"/>
<circle cx="294" cy="285.3" r="1.9" fill="#3589be"/>
<circle cx="294" cy="293.8" r="1.9" fill="#3589be"/>
<circle cx="294" cy="314.5" r="1.9" fill="#3589be"/>
<circle cx="293.8" cy="352.2" r="1.9" fill="#3589be"/>
<circle cx="298.3" cy="352.2" r="1.9" fill="#3589be"/>
<path d="M328.2 307.5H334.7V366H328.2" fill="none" stroke="#4a8ecf" stroke-width="1"/>
<rect x="322.5" y="331.3" width="11.5" height="28.7" fill="#438fb5" stroke="#2274b5" stroke-width="1"/>
<line x1="322.3" y1="360" x2="334.2" y2="360" stroke="#2274b5" stroke-width="1.2"/>
<circle cx="334.5" cy="331.1" r="1.6" fill="#fff" stroke="#2274b5" stroke-width="0.5"/>
<path d="M341.2 240.26L343.7 244.51L338.7 244.51Z" fill="#3589be"/>
<path d="M341.2 307.16L343.7 311.41L338.7 311.41Z" fill="#3589be"/>
<path d="M341.2 329.66L343.7 333.91L338.7 333.91Z" fill="#3589be"/>
<path d="M346.8 329.66L349.3 333.91L344.3 333.91Z" fill="#3589be"/>
<path d="M341.2 334.96L343.7 339.21L338.7 339.21Z" fill="#3589be"/>
<path d="M341.2 346.26L343.7 350.51L338.7 350.51Z" fill="#3589be"/>
<path d="M341.1 362.66L343.6 366.91L338.6 366.91Z" fill="#3589be"/>
<path d="M346.8 362.66L349.3 366.91L344.3 366.91Z" fill="#3589be"/>
<path d="M352.5 362.66L355 366.91L350 366.91Z" fill="#3589be"/>
<path d="M375.1 264.4H381.4V351.5H375.1" fill="none" stroke="#7d62a8" stroke-width="1"/>
<rect x="369.2" y="275.7" width="11.9" height="46.5" fill="#7078a0" stroke="#6a4f98" stroke-width="1"/>
<line x1="369" y1="302" x2="381.3" y2="302" stroke="#6a4f98" stroke-width="1.2"/>
<circle cx="381.4" cy="301.5" r="1.6" fill="#fff" stroke="#6a4f98" stroke-width="0.5"/>
<circle cx="387.1" cy="268.2" r="1.9" fill="#6a6ca8"/>
<circle cx="387.1" cy="272.3" r="1.9" fill="#6a6ca8"/>
<circle cx="387.1" cy="276.5" r="1.9" fill="#6a6ca8"/>
<circle cx="387.1" cy="289" r="1.9" fill="#6a6ca8"/>
<circle cx="391.3" cy="289" r="1.9" fill="#6a6ca8"/>
<circle cx="386.9" cy="305.5" r="1.9" fill="#6a6ca8"/>
<circle cx="386.9" cy="309.8" r="1.9" fill="#6a6ca8"/>
<circle cx="386.9" cy="317.9" r="1.9" fill="#6a6ca8"/>
<circle cx="386.9" cy="326.6" r="1.9" fill="#6a6ca8"/>
<circle cx="386.9" cy="335.1" r="1.9" fill="#6a6ca8"/>
<circle cx="386.9" cy="351.5" r="1.9" fill="#6a6ca8"/>
<path d="M421.4 340.3H427.7V355.3H421.4" fill="none" stroke="#7d62a8" stroke-width="1"/>
<rect x="415.6" y="340.8" width="11.6" height="14" fill="#7078a0" stroke="#6a4f98" stroke-width="1"/>
<line x1="415.4" y1="347" x2="427.4" y2="347" stroke="#6a4f98" stroke-width="1.2"/>
<circle cx="427.7" cy="348" r="1.6" fill="#fff" stroke="#6a4f98" stroke-width="0.5"/>
<path d="M434.3 341.86L436.8 346.11L431.8 346.11Z" fill="#6a6ca8"/>
<path d="M439.8 341.86L442.3 346.11L437.3 346.11Z" fill="#6a6ca8"/>
<path d="M434.3 352.96L436.8 357.21L431.8 357.21Z" fill="#6a6ca8"/>
<path d="M439.8 352.96L442.3 357.21L437.3 357.21Z" fill="#6a6ca8"/>
</svg>
</body></html>
